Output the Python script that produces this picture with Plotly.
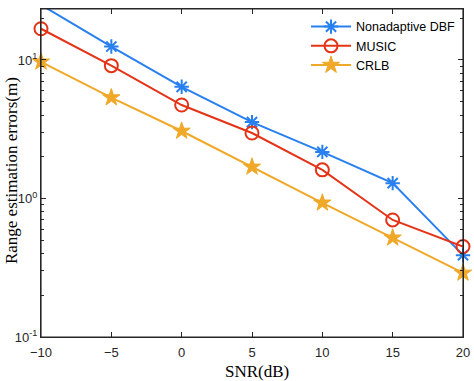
import plotly.graph_objects as go

snr = [-10, -5, 0, 5, 10, 15, 20]
dbf = [25.0, 12.5, 6.4, 3.56, 2.17, 1.29, 0.39]
music = [16.8, 9.1, 4.73, 2.97, 1.61, 0.70, 0.45]
crlb = [9.7, 5.35, 3.07, 1.69, 0.93, 0.52, 0.29]

x_ticks = [-10, -5, 0, 5, 10, 15, 20]
y_ticks = [0.1, 1, 10]
y_ticktext = ["10<sup>-1</sup>", "10<sup>0</sup>", "10<sup>1</sup>"]
y_minor = [0.2, 0.3, 0.4, 0.5, 0.6, 0.7, 0.8, 0.9, 2, 3, 4, 5, 6, 7, 8, 9, 20]

c_blue = "rgb(40,128,240)"
c_red = "rgb(228,52,24)"
c_yel = "rgb(240,168,40)"

fig = go.Figure()
fig.add_trace(go.Scatter(x=snr, y=dbf, name="Nonadaptive DBF", mode="lines+markers",
                         line=dict(color=c_blue, width=2),
                         marker=dict(symbol="asterisk-open", size=12, line=dict(color=c_blue, width=2)),
                         cliponaxis=False))
fig.add_trace(go.Scatter(x=snr, y=music, name="MUSIC", mode="lines+markers",
                         line=dict(color=c_red, width=2),
                         marker=dict(symbol="circle-open", size=13, color=c_red, line=dict(color=c_red, width=2)),
                         cliponaxis=False))
fig.add_trace(go.Scatter(x=snr, y=crlb, name="CRLB", mode="lines+markers",
                         line=dict(color=c_yel, width=2),
                         marker=dict(symbol="star", size=13, color=c_yel, line=dict(color=c_yel, width=1)),
                         cliponaxis=False))

axis_col = "#262626"
yr = [-1, 1.368]
fig.update_layout(
    width=474, height=381,
    margin=dict(l=41, r=11, t=9, b=44, autoexpand=False),
    paper_bgcolor="white", plot_bgcolor="white",
    showlegend=True,
    legend=dict(x=0.628, y=0.991, xanchor="left", yanchor="top",
                bgcolor="rgba(255,255,255,0)", borderwidth=0,
                font=dict(family="Liberation Sans, Arial", size=12.5, color="#000"),
                itemwidth=40, tracegroupgap=0),
    xaxis=dict(range=[-10, 20], tickvals=x_ticks, ticks="inside", ticklen=5, tickcolor=axis_col,
               showline=True, linecolor=axis_col, linewidth=1, mirror="ticks",
               showgrid=False, zeroline=False, ticklabelstandoff=3, automargin=False,
               tickfont=dict(family="Liberation Sans, Arial", size=13, color=axis_col)),
    yaxis=dict(type="log", range=yr, tickvals=y_ticks, ticktext=y_ticktext,
               ticks="inside", ticklen=5, tickcolor=axis_col,
               minor=dict(tickvals=y_minor, ticks="inside", ticklen=3, tickcolor=axis_col, showgrid=False),
               showline=True, linecolor=axis_col, linewidth=1, mirror="ticks",
               showgrid=False, zeroline=False, automargin=False,
               tickfont=dict(family="Liberation Sans, Arial", size=13, color=axis_col)),
    shapes=[dict(type="rect", xref="paper", yref="paper", x0=0, x1=1, y0=0, y1=1,
                 line=dict(color=axis_col, width=1.2), fillcolor="rgba(0,0,0,0)", layer="above")],
    annotations=[
        dict(text="SNR(dB)", xref="paper", yref="paper", x=0.511, y=-0.1037,
             xanchor="center", yanchor="middle", showarrow=False,
             font=dict(family="Liberation Serif, Times New Roman", size=17, color="#000")),
        dict(text="Range estimation errors(m)", xref="paper", yref="paper", x=-0.071, y=0.506,
             xanchor="center", yanchor="middle", textangle=-90, showarrow=False,
             font=dict(family="Liberation Serif, Times New Roman", size=17, color="#000")),
    ],
)
fig.write_html("out.html", config={"displayModeBar": False},
               post_script="document.body.style.margin='0';")
